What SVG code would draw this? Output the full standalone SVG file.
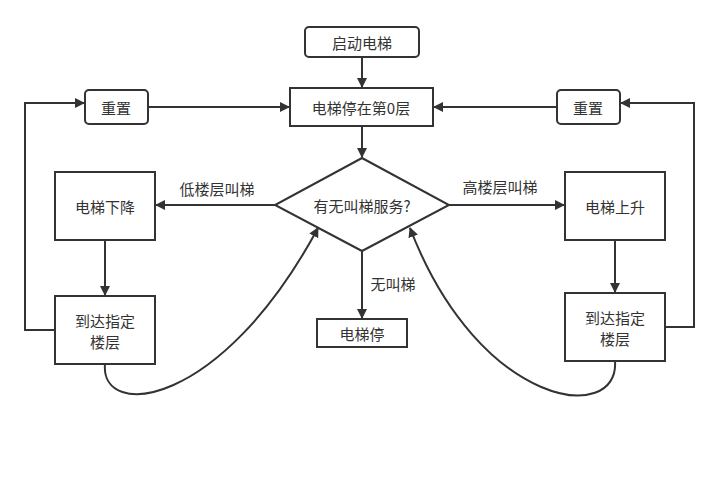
<svg xmlns="http://www.w3.org/2000/svg" width="719" height="492" viewBox="0 0 719 492">
<style>
.n{fill:#fff;stroke:#333;stroke-width:2}
.t{font-family:"Noto Sans CJK SC","Liberation Sans",sans-serif;font-size:15px;fill:#333;text-anchor:middle;dominant-baseline:central}
.c{fill:none;stroke:#333;stroke-width:2;marker-end:url(#a)}
</style>
<defs><marker id="a" viewBox="0 0 10 10" refX="9" refY="5" markerWidth="5" markerHeight="5" orient="auto" markerUnits="strokeWidth"><path d="M0,0L10,5L0,10z" fill="#333"/></marker></defs>
<rect width="719" height="492" fill="#fff"/>
<g id="connectors">
<path class="c" d="M362,57V87"/>
<path class="c" d="M148,107H289"/>
<path class="c" d="M557,107H434"/>
<path class="c" d="M55,330H25V103H84"/>
<path class="c" d="M665,327H694V103H621"/>
<path class="c" d="M362,126V157"/>
<path class="c" d="M275,205H156"/>
<path class="c" d="M449,205H564"/>
<path class="c" d="M362,251V318"/>
<path class="c" d="M105,240V295"/>
<path class="c" d="M615,240V292"/>
<path class="c" d="M105,364C100,420 220,410 318,228"/>
<path class="c" d="M615,361C620,425 480,410 410,228"/>
<text class="t" x="217" y="188">低楼层叫梯</text>
<text class="t" x="500" y="186">高楼层叫梯</text>
<text class="t" x="393" y="283">无叫梯</text>
</g>
<g id="start"><rect class="n" x="305" y="27" width="114" height="30" rx="4"/><text class="t" x="362" y="42">启动电梯</text></g>
<g id="floor0"><rect class="n" x="290" y="88" width="143" height="38"/><text class="t" x="361" y="107">电梯停在第0层</text></g>
<g id="resetL"><rect class="n" x="85" y="90" width="63" height="34" rx="4"/><text class="t" x="116" y="107">重置</text></g>
<g id="resetR"><rect class="n" x="557" y="90" width="63" height="34" rx="4"/><text class="t" x="588" y="107">重置</text></g>
<g id="decision"><path class="n" d="M362,158L449,205L362,251L275,205Z"/><text class="t" x="362" y="205">有无叫梯服务?</text></g>
<g id="down"><rect class="n" x="55" y="172" width="100" height="68"/><text class="t" x="105" y="206">电梯下降</text></g>
<g id="arriveL"><rect class="n" x="55" y="296" width="100" height="68"/><text class="t" x="105" y="320">到达指定</text><text class="t" x="105" y="341">楼层</text></g>
<g id="up"><rect class="n" x="565" y="172" width="100" height="68"/><text class="t" x="615" y="206">电梯上升</text></g>
<g id="arriveR"><rect class="n" x="565" y="293" width="100" height="68"/><text class="t" x="615" y="317">到达指定</text><text class="t" x="615" y="338">楼层</text></g>
<g id="stop"><rect class="n" x="317" y="319" width="90" height="28"/><text class="t" x="362" y="333">电梯停</text></g>
</svg>
